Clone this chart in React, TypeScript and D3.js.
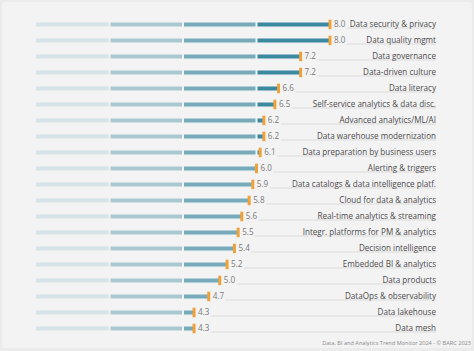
import { useEffect } from "react";
import * as d3 from "d3";

// Trend ranking, BARC Trend Monitor 2024
const CATEGORIES = [
  "Data security & privacy",
  "Data quality mgmt",
  "Data governance",
  "Data-driven culture",
  "Data literacy",
  "Self-service analytics & data disc.",
  "Advanced analytics/ML/AI",
  "Data warehouse modernization",
  "Data preparation by business users",
  "Alerting & triggers",
  "Data catalogs & data intelligence platf.",
  "Cloud for data & analytics",
  "Real-time analytics & streaming",
  "Integr. platforms for PM & analytics",
  "Decision intelligence",
  "Embedded BI & analytics",
  "Data products",
  "DataOps & observability",
  "Data lakehouse",
  "Data mesh",
];
const VALUES = [8.0, 8.0, 7.2, 7.2, 6.6, 6.5, 6.2, 6.2, 6.1, 6.0, 5.9, 5.8, 5.6, 5.5, 5.4, 5.2, 5.0, 4.7, 4.3, 4.3];
const SEGMENTS = [0, 2, 4, 6, 10];
const SEG_COLORS = ["#d6e4e8", "#a9c9d2", "#76abbb", "#3b89a1"];
const FOOTER = "Data, BI and Analytics Trend Monitor 2024 - © BARC 2023";

const W = 474;
const H = 351;
const FONT = "'Open Sans', sans-serif";

export default function App() {
  useEffect(() => {
    document.body.style.margin = "0";
  }, []);

  const x = d3.scaleLinear().domain([0, 8]).range([36, 330]);
  const y = d3.scaleBand().domain(CATEGORIES).range([16.5, 336.5]).padding(0);
  const bw = y.bandwidth();
  const labelRight = 436;

  return (
    <svg width={W} height={H} style={{ display: "block" }}>
      <rect x={0} y={0} width={W} height={H} fill="#ebebeb" />
      <rect x={2} y={2} width={W - 4} height={H - 5} rx={3} fill="#f3f3f3" />

      {CATEGORIES.map((c, i) => {
        const v = VALUES[i];
        const cy = (y(c) ?? 0) + bw / 2;
        const xv = x(v);
        return (
          <g key={c}>
            {SEG_COLORS.map((col, s) => {
              const a = SEGMENTS[s];
              const b = SEGMENTS[s + 1];
              if (v <= a) return null;
              const x0 = x(a) + (a > 0 ? 1 : 0);
              const x1 = v > b ? x(b) - 1 : xv;
              return (
                <rect key={s} x={x0} y={cy - 2} width={Math.max(0, x1 - x0)} height={4} fill={col} />
              );
            })}
            <line x1={xv + 17} x2={labelRight} y1={cy + 3.5} y2={cy + 3.5} stroke="#d4d4d4" strokeWidth={0.8} />
            <rect x={xv - 1.5} y={cy - 4.8} width={3} height={9.5} fill="#f0a23a" />
            <text x={xv + 4} y={cy} dy="0.3em" fontSize={8.1} fontFamily={FONT} fill="#7a7a7a">
              {v.toFixed(1)}
            </text>
            <text x={labelRight} y={cy} dy="0.3em" textAnchor="end" fontSize={8.1} fontFamily={FONT} fill="#4a4a4a">
              {c}
            </text>
          </g>
        );
      })}

      <text x={471} y={344.5} textAnchor="end" fontSize={5.6} fontFamily={FONT} fill="#8a8a8a">
        {FOOTER}
      </text>
    </svg>
  );
}
